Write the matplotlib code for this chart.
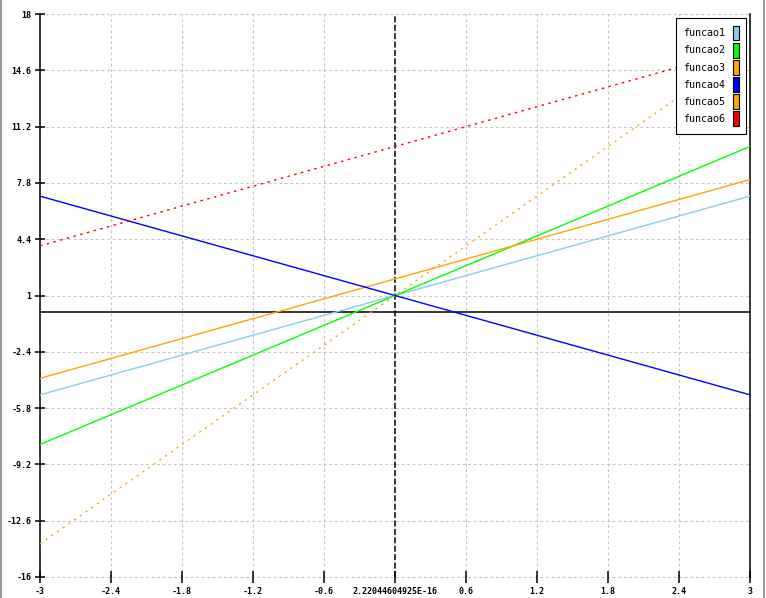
import matplotlib
matplotlib.use("Agg")
import matplotlib.pyplot as plt
from matplotlib.patches import Patch
from matplotlib.lines import Line2D

# -----------------------------
# Data
# -----------------------------
x_vals = [-3, 3]
funcao1 = [-5, 7]
funcao2 = [-8, 10]
funcao3 = [-4, 8]
funcao4 = [7, -5]
funcao5 = [-14, 16]
funcao6 = [4, 16]

names = ["funcao1", "funcao2", "funcao3", "funcao4", "funcao5", "funcao6"]
series = [funcao1, funcao2, funcao3, funcao4, funcao5, funcao6]
colors = ["#87CEEB", "#00FF00", "#FFA500", "#0000FF", "#FFA500", "#FF0000"]
styles = ["-", "-", "-", "-", (0, (1.5, 3.5)), (0, (1.8, 3.2))]

x_ticks = [-3, -2.4, -1.8, -1.2, -0.6, 0, 0.6, 1.2, 1.8, 2.4, 3]
x_labels = ["-3", "-2.4", "-1.8", "-1.2", "-0.6", "2.22044604925E-16",
            "0.6", "1.2", "1.8", "2.4", "3"]
y_ticks = [-16, -12.6, -9.2, -5.8, -2.4, 1, 4.4, 7.8, 11.2, 14.6, 18]
y_labels = ["-16", "-12.6", "-9.2", "-5.8", "-2.4", "1", "4.4", "7.8",
            "11.2", "14.6", "18"]

# -----------------------------
# Plot
# -----------------------------
plt.rcParams["font.family"] = ["DejaVu Sans Mono"]

fig = plt.figure(figsize=(7.66, 5.98), dpi=100)
ax = fig.add_axes([40 / 766, 1 - 577 / 598, 710 / 766, 563 / 598])

ax.set_xlim(-3, 3)
ax.set_ylim(-16, 18)

# grid
grid_style = dict(color="#c4c4c4", lw=0.8, ls=(0, (2.5, 2.5)), zorder=1)
for xt in x_ticks[1:-1]:
    if xt != 0:
        ax.axvline(xt, **grid_style)
for yt in y_ticks:
    ax.axhline(yt, clip_on=False, **grid_style)

# zero axes
ax.axhline(0, color="black", lw=1.1, zorder=2)
ax.axvline(0, color="black", lw=1.1, ls=(0, (4, 1.5)), zorder=2)

for name, ys, c, s in zip(names, series, colors, styles):
    ax.plot(x_vals, ys, color=c, lw=1.0, ls=s, zorder=3)

ax.set_xticks(x_ticks)
ax.set_xticklabels(x_labels)
ax.set_yticks(y_ticks)
ax.set_yticklabels(y_labels)
ax.tick_params(axis="x", direction="inout", length=8, width=1.1,
               labelsize=6, pad=3)
ax.tick_params(axis="y", direction="inout", length=6.5, width=1.1,
               labelsize=6, pad=3)
for lab in ax.get_xticklabels() + ax.get_yticklabels():
    lab.set_fontweight("bold")

for side in ["top", "bottom"]:
    ax.spines[side].set_visible(False)
ax.spines["left"].set_linewidth(1.1)
ax.spines["right"].set_linewidth(1.1)

handles = [Patch(facecolor=c, edgecolor="black", lw=0.8) for c in colors]
leg = ax.legend(handles, names, loc="upper right", markerfirst=False,
                fontsize=7.2, handlelength=0.6, handleheight=1.93,
                handletextpad=0.7, labelspacing=0.22, borderpad=0.75,
                borderaxespad=0.4, fancybox=False, framealpha=1,
                edgecolor="black")
leg.get_frame().set_linewidth(0.8)
leg.set_zorder(5)

# gray frame on the left and right of the image
fig.add_artist(Line2D([1.5 / 766, 1.5 / 766], [0, 1], color="#999999", lw=1.5))
fig.add_artist(Line2D([763.5 / 766, 763.5 / 766], [0, 1], color="#999999", lw=1.5))

plt.savefig("out.png", dpi=100)
